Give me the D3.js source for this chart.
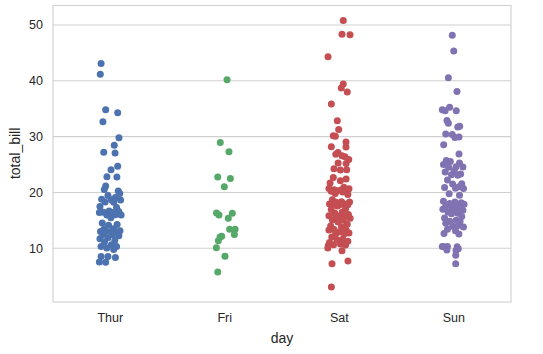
<!DOCTYPE html>
<html lang="en">
<head>
    <meta charset="UTF-8">
    <title>total_bill by day</title>
    <script src="https://cdn.jsdelivr.net/npm/d3@7/dist/d3.min.js"></script>
    <style>
        html, body { margin: 0; padding: 0; background: #fff; overflow: hidden; }
        svg { display: block; }
        text { font-family: "Liberation Sans", Arial, sans-serif; fill: #262626; }
    </style>
</head>
<body>
    <div id="chart"></div>

    <script>
        // =============================
        // 1. Data
        // =============================
        const days = ["Thur", "Fri", "Sat", "Sun"];
        const dayColors = ["#4C72B0", "#55A868", "#C44E52", "#8172B2"];
        const yTicks = [10, 20, 30, 40, 50];

        // total_bill values per day, with the horizontal jitter of each dot (-1..1 of the jitter width)
        const thurBill = [43.11, 41.19, 34.83, 34.30, 32.68, 29.80, 28.44, 27.20, 27.05, 24.71,
            24.08, 22.82, 22.76, 21.16, 20.53, 20.27, 19.81, 19.44, 19.08, 18.78,
            18.71, 18.64, 18.28, 18.26, 17.47, 17.29, 16.66, 16.58, 16.47, 16.43,
            16.40, 16.00, 15.98, 15.95, 15.48, 14.52, 14.26, 14.15, 13.51, 13.42,
            13.16, 13.03, 13.00, 13.00, 12.74, 12.48, 12.43, 12.26, 11.87, 11.69,
            11.38, 11.17, 10.65, 10.34, 10.33, 10.07, 9.78, 8.52, 8.51, 8.35,
            7.56, 7.51];
        const thurJitter = [-0.8, -0.87, -0.4, 0.65, -0.64, 0.76, 0.35, -0.57, 0.42, 0.65,
            0.07, -0.29, 0.58, -0.4, -0.52, 0.7, 0.83, -0.2, 0.45, -0.75,
            0.1, 0.9, -0.45, 0.3, -0.9, 0.55, -0.1, 0.75, -0.6, 0.2,
            -0.95, 0.45, -0.3, 0.95, 0.05, -0.7, 0.6, -0.15, 0.3, -0.55,
            0.85, -0.85, 0.1, -0.35, 0.5, -0.65, 0.2, 0.75, -0.2, -0.9,
            0.4, -0.5, 0.1, -0.8, 0.55, -0.3, 0.3, -0.2, -0.8, 0.45,
            -0.95, -0.4];

        const friBill = [40.17, 28.97, 27.28, 22.75, 22.49, 21.01, 16.32, 16.27, 15.98, 15.38,
            13.42, 13.42, 12.46, 12.16, 12.03, 11.35, 10.09, 8.58, 5.75];
        const friJitter = [0.2, -0.39, 0.37, -0.61, 0.49, -0.04, -0.72, 0.66, -0.5, 0.31,
            0.43, 0.9, 0.84, -0.27, -0.41, -0.56, -0.73, 0.02, -0.61];

        const satBill = [50.81, 48.33, 48.27, 44.30, 39.42, 38.73, 38.01, 35.83, 32.83, 31.27,
            30.14, 30.06, 29.03, 28.17, 28.15, 27.18, 26.86, 26.59, 26.41, 25.89,
            25.28, 25.21, 24.27, 24.06, 24.01, 22.67, 22.42, 22.12, 21.70, 20.92,
            20.69, 20.65, 20.49, 20.45, 20.29, 20.29, 20.23, 20.08, 19.82, 19.65,
            18.69, 18.35, 18.29, 18.24, 17.92, 17.92, 17.82, 17.81, 17.78, 17.59,
            17.07, 16.93, 16.45, 16.31, 16.04, 15.81, 15.77, 15.69, 15.53, 15.36,
            15.06, 15.01, 14.73, 14.31, 14.00, 13.81, 13.37, 13.28, 13.27, 12.90,
            12.76, 12.69, 12.60, 12.02, 11.61, 11.59, 11.24, 11.02, 10.77, 10.63,
            10.59, 10.51, 10.07, 9.55, 7.74, 7.25, 3.07];
        const satJitter = [0.35, 0.24, 0.94, -0.98, 0.35, 0.18, 0.7, -0.69, -0.17, -0.05,
            -0.52, -0.34, 0.59, -0.69, 0.59, -0.11, -0.3, 0.24, 0.5, 0.83,
            -0.1, 0.6, -0.46, 0.65, 0.1, -0.52, 0.6, 0.1, -0.8, 0.4,
            -0.9, 0.85, -0.45, 0.15, -0.2, 0.6, -0.7, 0.3, -0.35, 0.75,
            -0.6, 0.2, 0.9, -0.25, -0.85, 0.45, 0.05, -0.5, 0.75, -0.15,
            0.55, -0.7, 0.25, -0.4, 0.8, -0.9, 0.1, 0.55, -0.3, 0.95,
            -0.6, 0.35, -0.1, 0.7, -0.75, 0.2, -0.45, 0.6, -0.9, 0.05,
            0.85, -0.3, 0.45, -0.65, 0.3, -0.2, 0.75, -0.85, 0.1, -0.5,
            0.55, -0.95, -1.0, 0.24, 0.76, -0.63, -0.69];

        const sunBill = [48.17, 45.35, 40.55, 38.07, 35.26, 34.81, 34.65, 34.63, 32.90, 32.40,
            31.85, 31.71, 30.46, 30.40, 29.93, 29.85, 28.55, 26.88, 25.71, 25.56,
            25.29, 25.00, 24.59, 24.55, 24.52, 23.95, 23.68, 23.33, 23.17, 23.10,
            22.23, 21.58, 21.50, 21.01, 20.90, 20.76, 20.69, 19.77, 19.49, 18.43,
            18.29, 18.15, 18.04, 17.89, 17.51, 17.46, 17.31, 17.26, 16.99, 16.97,
            16.82, 16.49, 16.29, 16.21, 15.69, 15.42, 15.04, 14.83, 14.78, 14.48,
            14.07, 13.94, 13.81, 13.39, 13.13, 12.66, 12.54, 10.34, 10.33, 10.29,
            10.27, 9.94, 9.68, 9.60, 8.77, 7.25];
        const sunJitter = [-0.13, 0.0, -0.47, 0.28, -0.36, -1.0, -0.75, 0.22, -0.59, -0.47,
            0.52, 0.35, -0.7, -0.13, 0.46, 0.1, -0.88, 0.46, -0.65, -0.3,
            0.5, -0.9, 0.2, 0.8, -0.45, 0.05, -0.75, 0.6, -0.2, 0.35,
            -0.55, 0.7, -0.1, 0.45, -0.8, 0.15, 0.85, -0.4, 0.5, -0.9,
            0.1, 0.65, -0.35, 0.9, -0.7, 0.3, -0.15, 0.6, -0.95, 0.0,
            0.8, -0.5, 0.35, -0.2, 0.7, -0.8, 0.2, -0.35, 0.55, -0.7,
            0.4, -0.1, 0.85, -0.55, 0.15, -0.85, 0.45, -1.0, -0.55, 0.3,
            -0.85, 0.4, -0.6, 0.2, 0.17, 0.17];

        const billByDay = [thurBill, friBill, satBill, sunBill];
        const jitterByDay = [thurJitter, friJitter, satJitter, sunJitter];

        // =============================
        // 2. SVG Setup
        // =============================
        const width = 543, height = 354;
        const margin = { top: 5.5, right: 32, bottom: 52, left: 53 };
        const innerWidth = width - margin.left - margin.right;
        const innerHeight = height - margin.top - margin.bottom;

        const svg = d3.select("#chart").append("svg")
            .attr("width", width)
            .attr("height", height);
        const g = svg.append("g")
            .attr("transform", `translate(${margin.left}, ${margin.top})`);

        // =============================
        // 3. Scales
        // =============================
        const x = d3.scaleBand().domain(days).range([0, innerWidth]).padding(0);
        const y = d3.scaleLinear().domain([0.38, 53.49]).range([innerHeight, 0]);
        const jitterWidth = 0.1 * x.bandwidth();

        const points = days.flatMap((day, i) => billByDay[i].map((v, k) => ({
            day: day, bill: v, jitter: jitterByDay[i][k], color: dayColors[i]
        })));

        // grid lines
        g.append("g")
            .selectAll("line")
            .data(yTicks)
            .join("line")
            .attr("x1", 0).attr("x2", innerWidth)
            .attr("y1", d => y(d)).attr("y2", d => y(d))
            .attr("stroke", "#d0d0d0")
            .attr("stroke-width", 1.1);

        // frame
        g.append("rect")
            .attr("x", 0).attr("y", 0)
            .attr("width", innerWidth).attr("height", innerHeight)
            .attr("fill", "none")
            .attr("stroke", "#d0d0d0")
            .attr("stroke-width", 1.1);

        // =============================
        // 4. Axes
        // =============================
        const yAxis = g.append("g")
            .call(d3.axisLeft(y).tickValues(yTicks).tickSize(0).tickPadding(10));
        yAxis.select(".domain").remove();
        yAxis.selectAll("text")
            .attr("font-size", "12.5px")
            .style("font-family", "'Liberation Sans', Arial, sans-serif")
            .attr("fill", "#262626");

        const xAxis = g.append("g")
            .attr("transform", `translate(0, ${innerHeight})`)
            .call(d3.axisBottom(x).tickSize(0).tickPadding(11));
        xAxis.select(".domain").remove();
        xAxis.selectAll("text")
            .attr("font-size", "12.5px")
            .style("font-family", "'Liberation Sans', Arial, sans-serif")
            .attr("fill", "#262626");

        g.append("text")
            .attr("x", innerWidth / 2)
            .attr("y", innerHeight + 41)
            .attr("text-anchor", "middle")
            .attr("font-size", "14px")
            .text("day");

        g.append("text")
            .attr("transform", `translate(${-33}, ${y(27)}) rotate(-90)`)
            .attr("text-anchor", "middle")
            .attr("font-size", "14px")
            .text("total_bill");

        // =============================
        // 5. Strip points
        // =============================
        g.append("g")
            .selectAll("circle")
            .data(points)
            .join("circle")
            .attr("cx", d => x(d.day) + x.bandwidth() / 2 + d.jitter * jitterWidth)
            .attr("cy", d => y(d.bill))
            .attr("r", 3.5)
            .attr("fill", d => d.color);
    </script>
</body>
</html>
